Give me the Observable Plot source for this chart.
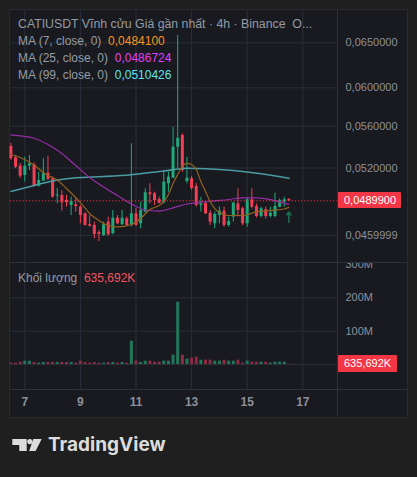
<!DOCTYPE html>
<html><head><meta charset="utf-8">
<script src="https://cdn.jsdelivr.net/npm/d3@7"></script>
<script src="https://cdn.jsdelivr.net/npm/@observablehq/plot@0.6"></script>
<style>
html,body{margin:0;padding:0;background:#1f1f1f;width:417px;height:477px;overflow:hidden;}
#wrap{position:relative;width:417px;height:477px;font-family:"Liberation Sans",Arial,sans-serif;}
.abs{position:absolute;}
#frame{left:9px;top:9px;width:397px;height:407px;background:#181a20;border:1px solid #2b2b2e;}
.sep{position:absolute;background:#2e313a;}
.leg{position:absolute;left:18px;font-size:12px;line-height:17px;color:#959aa4;white-space:pre;}
.box{position:absolute;left:338px;height:16px;line-height:16px;font-size:11px;color:#fff;background:#f23645;padding-left:6px;border-radius:1px;}
#logo{left:48px;top:434px;font-family:Inter,"Noto Sans",sans-serif;font-weight:700;font-size:19px;line-height:22px;color:#dcdcdc;}
svg.plotsvg{position:absolute;left:0;}
</style></head>
<body><div id="wrap">
<div id="frame" class="abs"></div>
</div>
<script>
// ---------- data ----------
const startTime = Date.UTC(2025, 5, 6, 12);        // first 4h candle
const stepHours = 4;
const xTickDays = [7, 9, 11, 13, 15, 17];
const priceTicks = [0.065, 0.06, 0.056, 0.052, 0.046];
const priceTickLabels = ["0,0650000", "0,0600000", "0,0560000", "0,0520000", "0,0459999"];
const volumeTicks = [100e6, 200e6, 300e6];
const volumeTickLabels = ["100M", "200M", "300M"];

const candleOpen = [.05402,.05295,.05217,.05130,.05217,.05230,.05031,.05077,.05151,.05099,
.04942,.04947,.04902,.04858,.04864,.04843,.04785,.04691,.04685,.04623,
.04600,.04713,.04615,.04747,.04691,.04741,.04685,.04785,.04699,.04799,
.04971,.04962,.04911,.04881,.05053,.05105,.05395,.05508,.05074,.05099,
.05028,.04858,.04878,.04790,.04699,.04770,.04808,.04685,.04756,.04872,
.04829,.04699,.04908,.04849,.04762,.04820,.04762,.04762,.04843,.04887,
.04911];
const candleHigh = [.05431,.05317,.05242,.05301,.05317,.05248,.05160,.05286,.05310,.05114,
.05010,.04992,.04947,.04932,.04920,.04858,.04794,.04770,.04713,.04642,
.04713,.04756,.04814,.04770,.04814,.04756,.05428,.04829,.04887,.05007,
.05053,.04977,.04932,.05176,.05160,.05590,.06585,.05525,.05301,.05120,
.05056,.04932,.04887,.04814,.04799,.04843,.04843,.04756,.04887,.05007,
.04843,.04926,.05007,.04872,.04843,.04843,.04843,.04968,.04917,.04932,
.04920];
const candleLow = [.05270,.05195,.05102,.05068,.05176,.05022,.05022,.05077,.05083,.04923,
.04872,.04808,.04843,.04770,.04799,.04699,.04679,.04670,.04572,.04550,
.04592,.04594,.04606,.04691,.04685,.04679,.04670,.04679,.04657,.04794,
.04872,.04858,.04872,.04872,.04977,.05099,.05192,.05160,.05053,.04992,
.04843,.04799,.04779,.04685,.04657,.04699,.04670,.04670,.04713,.04756,
.04685,.04670,.04829,.04750,.04750,.04741,.04750,.04750,.04837,.04843,
.04893];
const candleClose = [.05288,.05207,.05124,.05217,.05239,.05031,.05083,.05151,.05093,.04932,
.04951,.04881,.04881,.04893,.04849,.04770,.04685,.04679,.04609,.04609,
.04691,.04606,.04747,.04699,.04747,.04685,.04785,.04685,.04814,.04971,
.04953,.04902,.04878,.05068,.05114,.05395,.05482,.05176,.05105,.05010,
.04858,.04872,.04785,.04713,.04779,.04808,.04685,.04719,.04878,.04814,
.04699,.04908,.04843,.04762,.04829,.04762,.04790,.04849,.04902,.04908,
.04899];
const volumeMillions = [4,4,7,10,10,6,4,6,6,6, 6,6,6,6,4,10,6,4,6,4,
4,6,6,4,6,4,70,10,6,10, 10,7,7,10,10,28,187,28,16,19,
22,13,13,13,10,10,13,10,10,13, 4,10,7,7,7,7,4,7,7,7, 0.636];

const ma7Index = [0,2,5,7,8,10,12,15,17,19,20,21,23,26,28,30,32,33,34,35,36,37,38,39,40,41,42,43,44,45,46,47,50,53,56,59,60];
const ma7Value = [.05326,.05298,.05228,.05158,.05130,.05088,.05010,.04884,.04788,.04727,
.04702,.04685,.04672,.04693,.04744,.04823,.04858,.04893,.04956,.05056,
.05139,.05214,.05242,.05232,.05186,.05074,.04983,.04893,.04831,.04796,
.04779,.04770,.04770,.04801,.04814,.04827,.04841];
const ma25Index = [0,5,8,11,14,17,20,23,26,29,32,35,38,41,44,47,50,53,56,58,60];
const ma25Value = [.05515,.05482,.05421,.05335,.05223,.05111,.05024,.04947,.04871,.04818,
.04809,.04836,.04871,.04887,.04899,.04911,.04926,.04926,.04910,.04888,.04867];
const ma99Index = [0,5,9,14,20,26,33,38,42,48,54,60];
const ma99Value = [.04983,.05037,.05079,.05108,.05120,.05137,.05172,.05197,.05193,.05176,.05146,.05104];

const markerIndex = [60];
const markerFrom = [0.04710];
const markerTo = [0.04801];

const lastPriceLabel = "0,0489900";
const lastVolumeLabel = "635,692K";
const legendTitle = "CATIUSDT Vĩnh cửu Giá gần nhất · 4h · Binance  O...";
const maNames = ["MA (7, close, 0)", "MA (25, close, 0)", "MA (99, close, 0)"];
const maLegendValues = ["0,0484100", "0,0486724", "0,0510426"];
const volumeTitle = "Khối lượng";

// ---------- derived tables ----------
const timeOf = i => new Date(startTime + i * stepHours * 3600000);
const xTicks = xTickDays.map(d => new Date(Date.UTC(2025, 5, d)));
const candles = candleOpen.map((o, i) => ({
  t: timeOf(i), open: o, high: candleHigh[i], low: candleLow[i], close: candleClose[i],
  vol: volumeMillions[i] * 1e6, up: candleClose[i] >= o
}));
const maLine = (idx, val) => idx.map((k, j) => ({t: timeOf(k), v: val[j]}));
const ma7 = maLine(ma7Index, ma7Value), ma25 = maLine(ma25Index, ma25Value), ma99 = maLine(ma99Index, ma99Value);
const markers = markerIndex.map((k, j) => ({t: timeOf(k), y1: markerFrom[j], y2: markerTo[j]}));
const lastClose = candleClose[candleClose.length - 1];
const lastVol = volumeMillions[volumeMillions.length - 1] * 1e6;

// ---------- styles ----------
const FONT = '"Liberation Sans", Arial, sans-serif';
const UP = "#22a97b", DOWN = "#f23f56";
const VUP = "#22765a", VDOWN = "#8e2c43";
const GRID = "#2a2e38", AXIS = "#8c909a";
const xScale = {type: "utc", domain: [xTicks[0], xTicks[xTicks.length - 1]], range: [24.3, 302.3]};
const priceFmt = new Map(priceTicks.map((p, i) => [p, priceTickLabels[i]]));
const volFmt = new Map(volumeTicks.map((p, i) => [p, volumeTickLabels[i]]));

const priceChart = Plot.plot({
  width: 417, height: 262,
  marginTop: 10, marginLeft: 10, marginRight: 80, marginBottom: 0,
  style: {background: "transparent", fontFamily: FONT, fontSize: "11px", color: AXIS},
  x: {...xScale, axis: null},
  y: {type: "log", domain: [...priceTicks].reverse(), range: [235, 167.5, 125.7, 87.3, 42.3], label: null},
  marks: [
    Plot.gridY(priceTicks, {stroke: GRID, strokeOpacity: 1}),
    Plot.gridX(xTicks, {stroke: GRID, strokeOpacity: 1}),
    Plot.ruleX(candles, {x: "t", y1: "low", y2: "high", stroke: d => d.up ? UP : DOWN, strokeWidth: 1}),
    Plot.ruleX(candles, {x: "t", y1: "open", y2: "close", stroke: d => d.up ? UP : DOWN, strokeWidth: 3}),
    Plot.line(ma99, {x: "t", y: "v", stroke: "#4a9ca3", strokeWidth: 1.6, curve: "monotone-x"}),
    Plot.line(ma25, {x: "t", y: "v", stroke: "#952ca8", strokeWidth: 1.2, curve: "monotone-x"}),
    Plot.line(ma7, {x: "t", y: "v", stroke: "#93601f", strokeWidth: 1.2, curve: "monotone-x"}),
    Plot.ruleY([lastClose], {stroke: "#f23645", strokeWidth: 1, strokeDasharray: "1.2,2"}),
    Plot.arrow(markers, {x1: "t", x2: "t", y1: "y1", y2: "y2", stroke: "#1d6c52", strokeWidth: 1.6, headLength: 5, headAngle: 70}),
    Plot.axisY({anchor: "right", ticks: priceTicks, tickFormat: d => priceFmt.get(d), tickSize: 0, tickPadding: 8, fill: AXIS, fontSize: 11, label: null})
  ]
});
priceChart.classList.add("plotsvg");
priceChart.style.top = "0px";

const volChart = Plot.plot({
  width: 417, height: 155,
  marginTop: 0, marginLeft: 10, marginRight: 80, marginBottom: 28,
  style: {background: "transparent", fontFamily: FONT, fontSize: "11px", color: AXIS},
  x: {...xScale},
  y: {type: "linear", domain: [0, 300e6], range: [102, 2], label: null},
  marks: [
    Plot.gridY([0, 100e6, 200e6], {stroke: GRID, strokeOpacity: 1}),
    Plot.gridX(xTicks, {stroke: GRID, strokeOpacity: 1}),
    Plot.ruleX(candles, {x: "t", y1: 0, y2: "vol", stroke: d => d.up ? VUP : VDOWN, strokeWidth: 3}),
    Plot.axisY({anchor: "right", ticks: volumeTicks, tickFormat: d => volFmt.get(d), tickSize: 0, tickPadding: 8, fill: AXIS, fontSize: 11, label: null}),
    Plot.axisX({anchor: "bottom", ticks: xTicks, tickFormat: d => String(d.getUTCDate()), tickSize: 0, tickPadding: 8, fill: AXIS, fontSize: 12, fontWeight: "bold", label: null})
  ]
});
volChart.classList.add("plotsvg");
volChart.style.top = "262px";

const wrap = document.getElementById("wrap");
wrap.appendChild(priceChart);
wrap.appendChild(volChart);

function addDiv(cls, css, html) {
  const d = document.createElement("div");
  if (cls) d.className = cls;
  Object.assign(d.style, css);
  d.innerHTML = html || "";
  wrap.appendChild(d);
  return d;
}
// separators
addDiv("sep", {left: "337px", top: "10px", width: "1px", height: "407px"});
addDiv("sep", {left: "10px", top: "262px", width: "397px", height: "1px"});
addDiv("sep", {left: "10px", top: "389px", width: "397px", height: "1px"});

// legend
const maColors = ["#f7931e", "#e040fb", "#5ee3ef"];
addDiv("leg", {top: "16px", fontSize: "12.3px"}, legendTitle);
maNames.forEach((n, i) => addDiv("leg", {top: (33 + 17 * i) + "px"},
  n + '  <span style="color:' + maColors[i] + '">' + maLegendValues[i] + "</span>"));
addDiv("leg", {top: "270px"}, volumeTitle + '  <span style="color:#f7525f">' + lastVolumeLabel + "</span>");

// last-value boxes placed by the scales
const py = priceChart.scale("y").apply(lastClose);
addDiv("box", {top: (py - 8) + "px", width: "57px"}, lastPriceLabel);
const vy = 262 + volChart.scale("y").apply(lastVol);
addDiv("box", {top: (vy - 8.5) + "px", width: "53px", height: "17px", lineHeight: "17px"}, lastVolumeLabel);

// TradingView logo
const logo = document.createElementNS("http://www.w3.org/2000/svg", "svg");
logo.setAttribute("width", "31"); logo.setAttribute("height", "13");
logo.setAttribute("style", "position:absolute;left:12px;top:439px");
logo.innerHTML = '<path d="M0.3 0H14.7V12H7.3V6H0.3Z" fill="#dcdcdc"/><circle cx="17.8" cy="2.6" r="2.6" fill="#dcdcdc"/><path d="M21.3 0H29.7L23.6 12H17.2Z" fill="#dcdcdc"/>';
wrap.appendChild(logo);
addDiv("abs", {}, "TradingView").id = "logo";
</script>
</body></html>
